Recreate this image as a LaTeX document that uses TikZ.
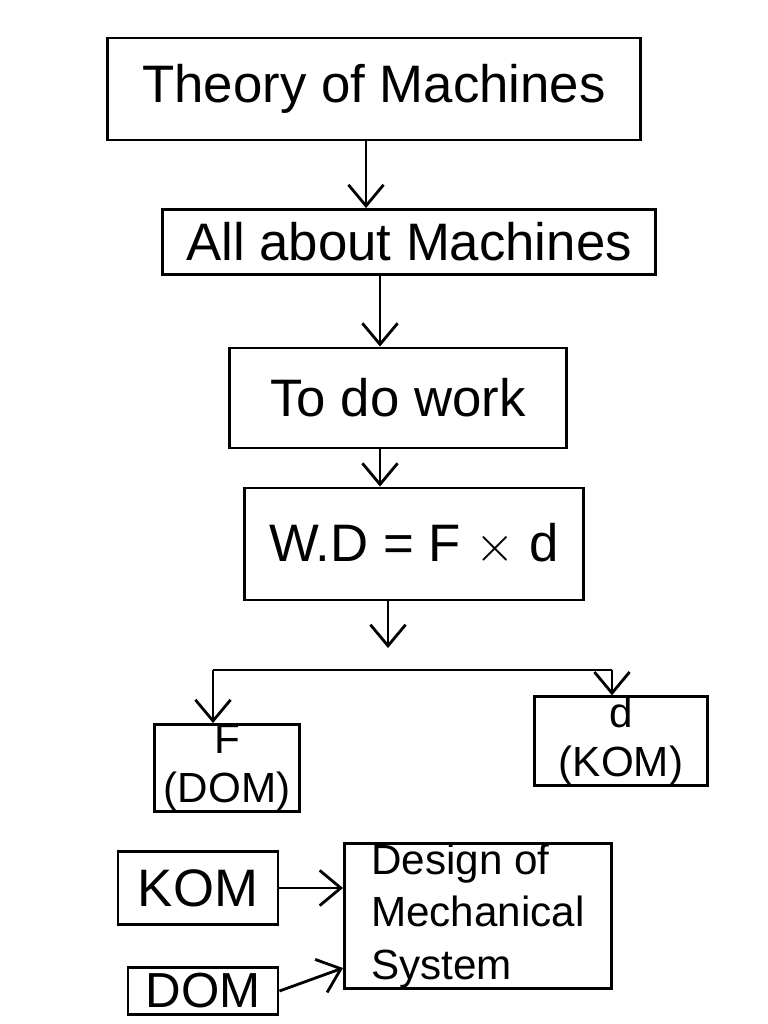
\documentclass[tikz,border=0pt]{standalone}
\usepackage{fontspec}
\setmainfont{Liberation Sans}
\usetikzlibrary{arrows.meta}
\begin{document}
\begin{tikzpicture}[x=0.01cm,y=-0.01cm,
  box/.style={draw,thick,rectangle,inner sep=0pt},
  arr/.style={thick,-{Straight Barb[length=6pt,width=10pt]}},
  txt/.style={font=\fontsize{15}{18}\selectfont}]
\useasboundingbox (0,0) rectangle (768,1024);
\node[box,minimum width=5.32cm,minimum height=1.02cm,txt] (a) at (374,89) {Theory of Machines};
\node[box,minimum width=4.92cm,minimum height=0.65cm,txt] (b) at (409,242) {All about Machines};
\node[box,minimum width=3.37cm,minimum height=1.00cm,txt] (c) at (398,398) {To do work};
\node[box,minimum width=3.38cm,minimum height=1.12cm,txt] (d) at (414,544) {W.D = F $\times$ d};
\node[box,minimum width=1.45cm,minimum height=0.73cm,align=center,font=\fontsize{12}{14}\selectfont] (f) at (227,768) {F\\(DOM)};
\node[box,minimum width=1.73cm,minimum height=0.82cm,align=center,font=\fontsize{12}{14}\selectfont] (g) at (621,741) {d\\(KOM)};
\node[box,minimum width=1.60cm,minimum height=0.73cm,txt] (k) at (198,888) {KOM};
\node[box,minimum width=1.50cm,minimum height=0.47cm,font=\fontsize{14}{16}\selectfont] (m) at (203,991) {DOM};
\node[box,minimum width=2.67cm,minimum height=1.27cm,align=left,font=\fontsize{12}{15}\selectfont] (s) at (478,916) {Design of\\Mechanical\\System};
\coordinate (l) at (213,670);
\coordinate (r) at (612,670);
\draw[arr] (a.south -| 366,0) -- (b.north -| 366,0);
\draw[arr] (380,275) -- (c.north -| 380,0);
\draw[arr] (380,448) -- (d.north -| 380,0);
\draw[arr] (d.south -| 388,0) -- (388,648);
\draw[thick] (l) -- (r);
\draw[arr] (l) -- (f.north -| l);
\draw[arr] (r) -- (g.north -| r);
\draw[arr] (k.east) -- (k.east -| s.west);
\draw[arr] (m.east) -- (s.west |- 0,968);
\end{tikzpicture}
\end{document}
